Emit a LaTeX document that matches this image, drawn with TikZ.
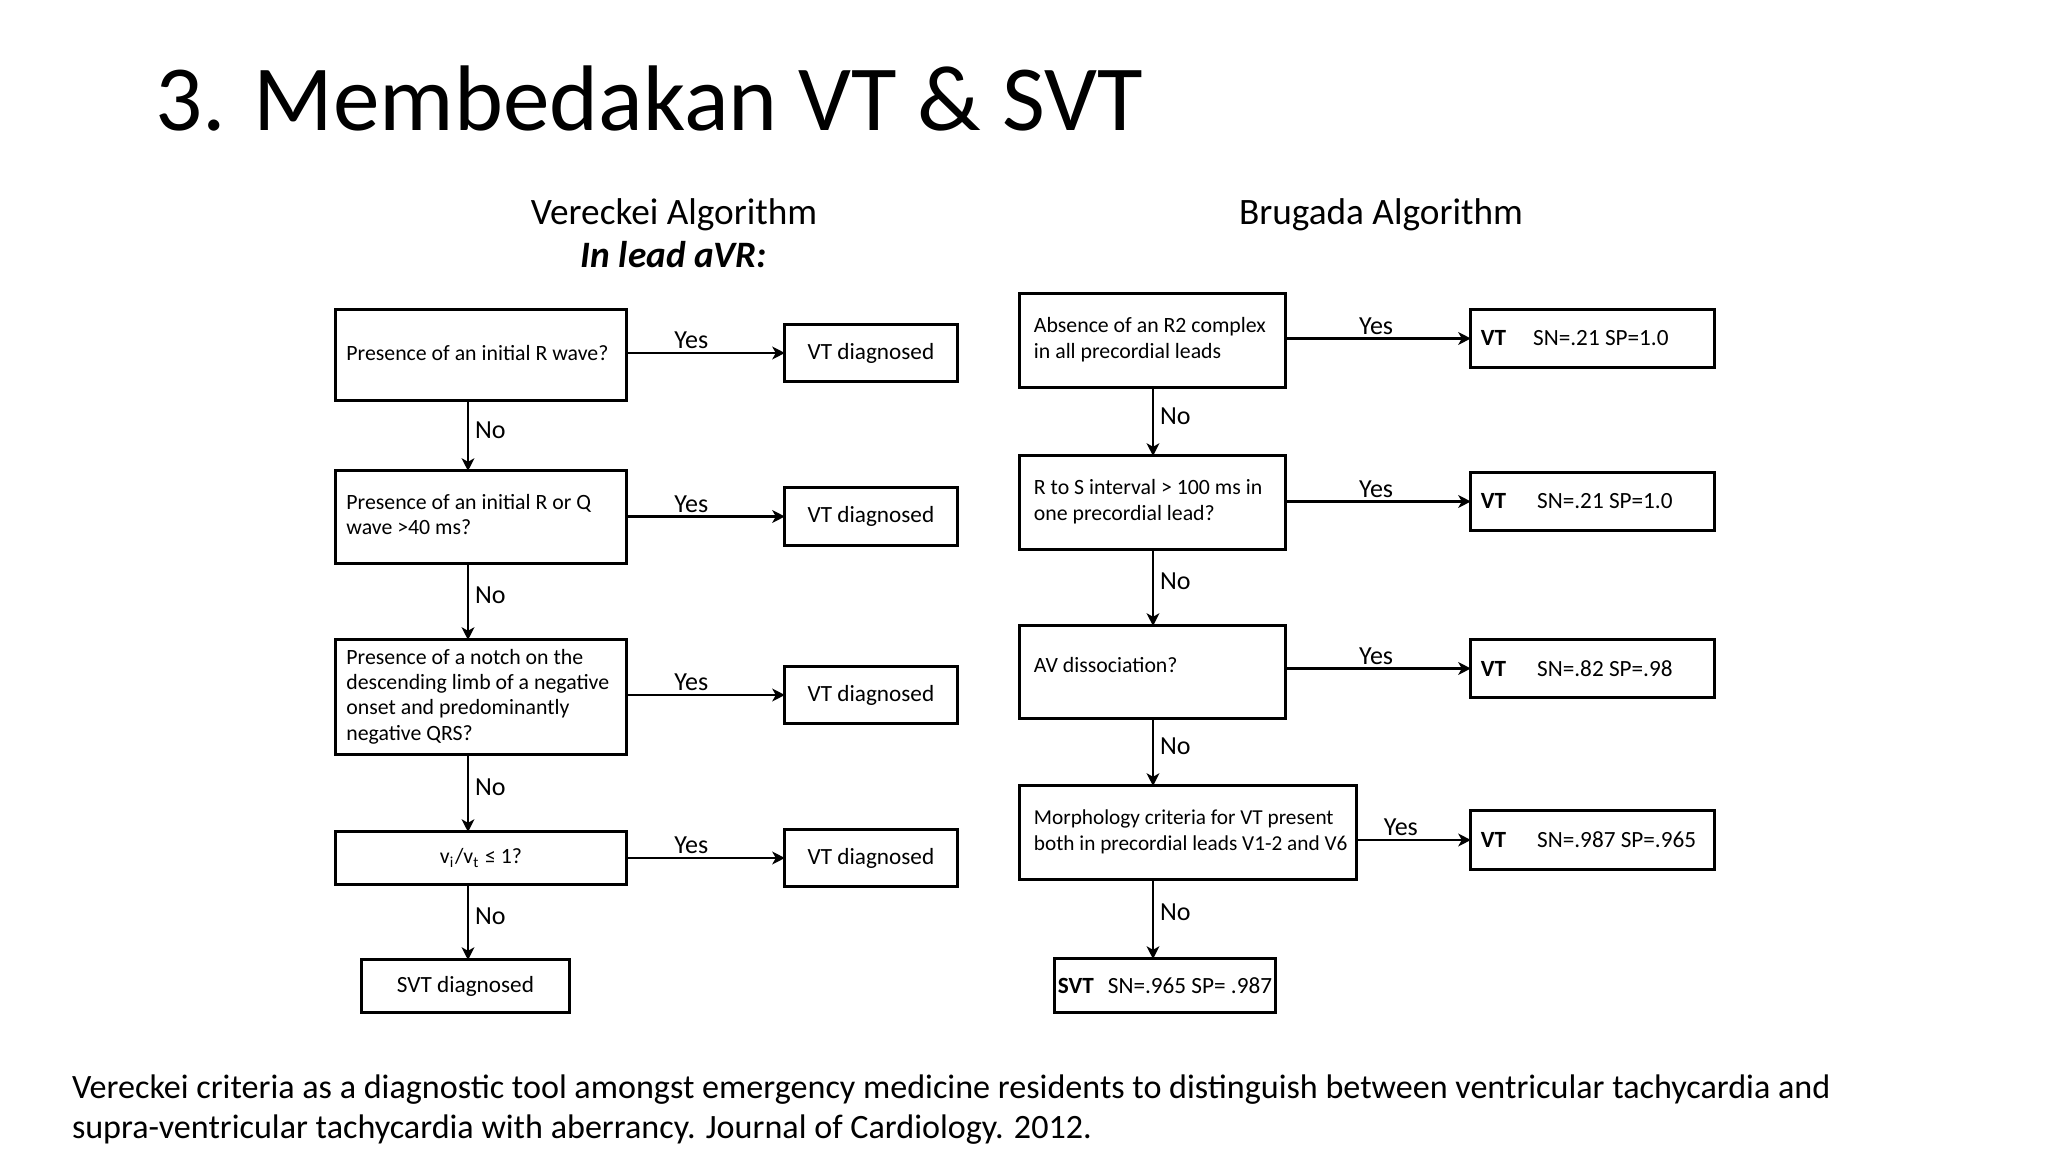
\documentclass[tikz,border=0pt]{standalone}
\usepackage{fontspec}
\setmainfont{Carlito}
\usetikzlibrary{arrows.meta}
\newcommand\qtext[2]{\makebox[#1][l]{\begin{tabular}{@{}l@{}}#2\end{tabular}}}
\begin{document}
\begin{tikzpicture}[x=0.01cm,y=-0.01cm,
  every node/.style={inner sep=0pt, outer sep=0pt},
  qfont/.style={font=\fontsize{6.2pt}{7.2pt}\selectfont},
  rfont/.style={font=\fontsize{6.6pt}{7.4pt}\selectfont},
  qbox/.style={draw, line width=0.85pt, qfont, inner xsep=0.105cm, inner ysep=1pt},
  vq/.style={qbox, minimum width=2.9cm},
  bq/.style={qbox, inner xsep=0.14cm, minimum width=2.65cm},
  resbox/.style={draw, line width=0.85pt, rfont, align=center, inner sep=1pt},
  vres/.style={resbox, minimum width=1.72cm, minimum height=0.57cm},
  bres/.style={draw, line width=0.85pt, rfont, inner xsep=0.1cm, inner ysep=1pt, minimum width=2.43cm, minimum height=0.57cm},
  conn/.style={line width=0.8pt, -{Stealth[length=3.6pt,width=3.6pt,inset=1pt]}},
  lab/.style={font=\fontsize{7.4pt}{8pt}\selectfont},
  head/.style={font=\fontsize{10.6pt}{12pt}\selectfont, anchor=base}
]
\useasboundingbox (0,0) rectangle (2048,1152);

% Title
\node[anchor=base west, font=\fontsize{26.5pt}{30pt}\selectfont] (title) at (155,131) {3. Membedakan VT \& SVT};

% Headings
\node[head] (vhead) at (674,225) {Vereckei Algorithm};
\node[head, font=\fontsize{10.6pt}{12pt}\selectfont\bfseries\itshape] (vsub) at (674,268) {In lead aVR:};
\node[head] (bhead) at (1381,225) {Brugada Algorithm};

% Vereckei boxes
\node[vq, minimum height=0.90cm] (V1) at (481,355) {\qtext{2.69cm}{Presence of an initial R wave?}};
\node[vq, minimum height=0.92cm] (V2) at (481,517) {\qtext{2.69cm}{Presence of an initial R or Q\\wave >40 ms?}};
\node[vq, minimum height=1.14cm] (V3) at (481,697) {\qtext{2.69cm}{Presence of a notch on the\\descending limb of a negative\\onset and predominantly\\negative QRS?}};
\node[qbox, align=center, minimum width=2.9cm, minimum height=0.52cm] (V4) at (481,858) {v\textsubscript{i}/v\textsubscript{t} ≤ 1?};
\node[vres] (VT1) at (871,353) {VT diagnosed};
\node[vres] (VT2) at (871,516.5) {VT diagnosed};
\node[vres] (VT3) at (871,695) {VT diagnosed};
\node[vres] (VT4) at (871,858) {VT diagnosed};
\node[resbox, minimum width=2.07cm, minimum height=0.52cm] (SV) at (465.5,986) {SVT diagnosed};

\coordinate (vx) at (468,0);
\foreach \a/\b in {V1/VT1,V2/VT2,V3/VT3,V4/VT4}{
  \draw[conn] (\b.west -| \a.east) -- node[lab, pos=0.41, above=1.2pt] {Yes} (\b.west);
}
\foreach \a/\b in {V1/V2,V2/V3,V3/V4,V4/SV}{
  \draw[conn] (\a.south -| vx) -- node[lab, pos=0.42, right=2pt] {No} (\b.north -| vx);
}

% Brugada boxes
\node[bq, minimum height=0.93cm] (B1) at (1152.5,340.5) {\qtext{2.37cm}{Absence of an R2 complex\\in all precordial leads}};
\node[bq, minimum height=0.93cm] (B2) at (1152.5,502.5) {\qtext{2.37cm}{R to S interval > 100 ms in\\one precordial lead?}};
\node[bq, minimum height=0.92cm] (B3) at (1152.5,672) {\qtext{2.37cm}{\raisebox{2pt}{AV dissociation?}}};
\node[qbox, font=\fontsize{6.05pt}{7.2pt}\selectfont, inner xsep=0.14cm, minimum width=3.36cm, minimum height=0.93cm] (B4) at (1188,832.5) {\qtext{3.08cm}{\raisebox{2.5pt}{\begin{tabular}{@{}l@{}}Morphology criteria for VT present\\both in precordial leads V1-2 and V6\end{tabular}}}};
\node[bres] (R1) at (1592.5,338.5) {\makebox[2.23cm][l]{\textbf{VT}\hspace{0.27cm}SN=.21 SP=1.0}};
\node[bres] (R2) at (1592.5,501.5) {\makebox[2.23cm][l]{\textbf{VT}\hspace{0.31cm}SN=.21 SP=1.0}};
\node[bres] (R3) at (1592.5,668.5) {\makebox[2.23cm][l]{\textbf{VT}\hspace{0.31cm}SN=.82 SP=.98}};
\node[bres, minimum height=0.58cm] (R4) at (1592.5,840) {\makebox[2.23cm][l]{\textbf{VT}\hspace{0.31cm}SN=.987 SP=.965}};
\node[resbox, minimum width=2.16cm, minimum height=0.53cm] (SB) at (1165,985.5) {\textbf{SVT}\hspace{0.14cm}SN=.965 SP= .987};

\coordinate (bx) at (1153,0);
\draw[conn] (R1.west -| B1.east) -- node[lab, pos=0.49, above=1.2pt] {Yes} (R1.west);
\draw[conn] (R2.west -| B2.east) -- node[lab, pos=0.49, above=1.2pt] {Yes} (R2.west);
\draw[conn] (R3.west -| B3.east) -- node[lab, pos=0.49, above=1.2pt] {Yes} (R3.west);
\draw[conn] (R4.west -| B4.east) -- node[lab, pos=0.39, above=1.2pt] {Yes} (R4.west);
\foreach \a/\b in {B1/B2,B2/B3,B3/B4,B4/SB}{
  \draw[conn] (\a.south -| bx) -- node[lab, pos=0.42, right=2pt] {No} (\b.north -| bx);
}

% Footer
\node[anchor=base west, font=\fontsize{9.7pt}{11pt}\selectfont] (ref1) at (72,1098) {Vereckei criteria as a diagnostic tool amongst emergency medicine residents to distinguish between ventricular tachycardia and};
\node[anchor=base west, font=\fontsize{9.7pt}{11pt}\selectfont] (ref2) at (72,1138) {supra-ventricular tachycardia with aberrancy. Journal of Cardiology. 2012.};
\end{tikzpicture}
\end{document}
